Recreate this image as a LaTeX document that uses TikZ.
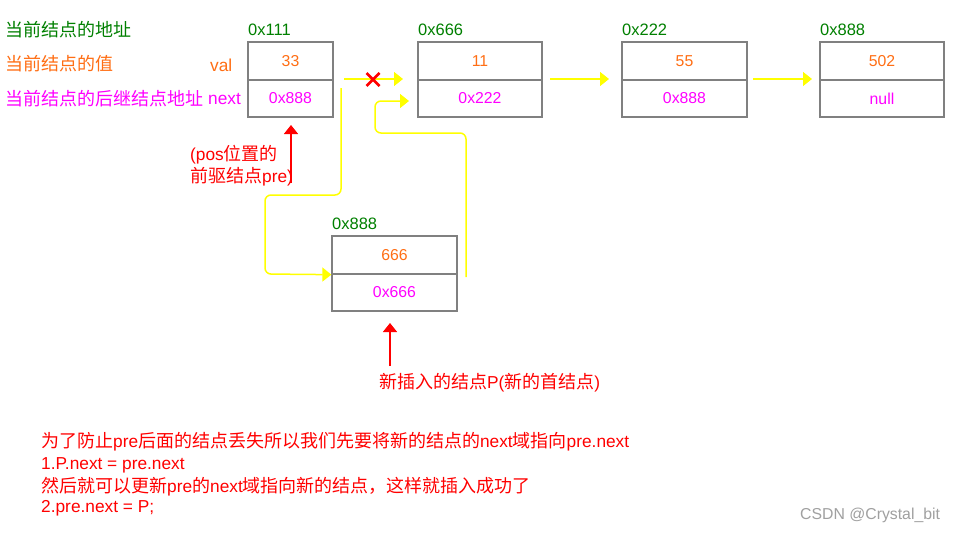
\documentclass[tikz,border=0pt]{standalone}
\usepackage{fontspec}
\setmainfont{Liberation Sans}
\newfontfamily\cjk[Scale=1.04]{Noto Sans CJK SC}
\usetikzlibrary{arrows.meta}
\definecolor{lgreen}{RGB}{0,128,0}
\definecolor{lorange}{RGB}{255,110,20}
\definecolor{lmag}{RGB}{255,0,255}
\definecolor{lred}{RGB}{255,0,0}
\definecolor{lyel}{RGB}{255,255,0}
\definecolor{lgray}{RGB}{128,128,128}
\definecolor{wgray}{RGB}{160,160,160}
\begin{document}
\begin{tikzpicture}[x=1pt,y=-1pt,
 cell/.style={draw=lgray,line width=1.3pt,inner sep=0pt},
 valtxt/.style={cell,text=lorange,font=\fontsize{15.8}{19}\selectfont,minimum height=38pt},
 nexttxt/.style={cell,text=lmag,font=\fontsize{15.8}{19}\selectfont,minimum height=37pt},
 addr/.style={text=lgreen,font=\fontsize{16.5}{19}\selectfont,anchor=west,inner sep=0pt},
 lbl/.style={font=\fontsize{17.3}{21}\selectfont,anchor=west,inner sep=0pt},
 yarrow/.style={draw=lyel,line width=1.5pt,-{Triangle[length=9pt,width=14pt]}},
 rarrow/.style={draw=lred,line width=1.5pt,-{Triangle[length=9pt,width=14pt]}},
]
\useasboundingbox[fill=white] (0,0) rectangle (956,533);

% left legend
\node[lbl,text=lgreen] (lg1) at (5,30) {\cjk 当前结点的地址};
\node[lbl,text=lorange] (lg2) at (5,64) {\cjk 当前结点的值};
\node[lbl,text=lmag] (lg3) at (5,99) {\cjk 当前结点的后继结点地址};
\node[lbl,text=lorange] (lval) at (210,65) {val};
\node[lbl,text=lmag] (lnext) at (208,99) {next};

% node 1
\node[addr] (a1) at (248,30) {0x111};
\node[valtxt,minimum width=85pt] (n1v) at (290.5,61) {33};
\node[nexttxt,minimum width=85pt] (n1n) at (290.5,98.5) {0x888};
% node 2
\node[addr] (a2) at (418,30) {0x666};
\node[valtxt,minimum width=124pt] (n2v) at (480,61) {11};
\node[nexttxt,minimum width=124pt] (n2n) at (480,98.5) {0x222};
% node 3
\node[addr] (a3) at (622,30) {0x222};
\node[valtxt,minimum width=125pt] (n3v) at (684.5,61) {55};
\node[nexttxt,minimum width=125pt] (n3n) at (684.5,98.5) {0x888};
% node 4
\node[addr] (a4) at (820,30) {0x888};
\node[valtxt,minimum width=124pt] (n4v) at (882,61) {502};
\node[nexttxt,minimum width=124pt] (n4n) at (882,98.5) {null};
% new node
\node[addr] (a5) at (332,224) {0x888};
\node[valtxt,minimum width=125pt] (n5v) at (394.5,255) {666};
\node[nexttxt,minimum width=125pt] (n5n) at (394.5,292.5) {0x666};

% yellow connectors
\coordinate (c1s) at (344,79);
\coordinate (c1e) at (403,79);
\coordinate (c2s) at (550,79);
\coordinate (c2e) at (609,79);
\coordinate (c3s) at (753,79);
\coordinate (c3e) at (812,79);
\draw[yarrow] (c1s) -- (c1e);
\draw[yarrow] (c2s) -- (c2e);
\draw[yarrow] (c3s) -- (c3e);

\coordinate (p1s) at (341,88);
\draw[yarrow,rounded corners=6pt] (p1s) -- (341,195) -- (265,195) -- (265,274) -- (n5v.south west);
\coordinate (p2s) at (466,277);
\coordinate (p2e) at (409,101);
\draw[yarrow,rounded corners=6pt] (p2s) -- (466,133) -- (375,133) -- (375,101) -- (p2e);

% red cross
\coordinate (xc) at (373,79.5);
\draw[lred,line width=2.6pt] ([shift={(-6.5,-6.5)}]xc) -- ([shift={(6.5,6.5)}]xc)
  ([shift={(-6.5,6.5)}]xc) -- ([shift={(6.5,-6.5)}]xc);

% red annotations
\node[lbl,text=lred] (t1) at (190,155) {(pos{\cjk 位置的}};
\node[lbl,text=lred] (t2) at (190,177) {{\cjk 前驱结点}pre)};
\coordinate (r1s) at (291,183);
\coordinate (r1e) at (291,125);
\draw[rarrow] (r1s) -- (r1e);

\node[lbl,text=lred] (t3) at (379,383) {{\cjk 新插入的结点}P({\cjk 新的首结点})};
\coordinate (r2s) at (390,366);
\coordinate (r2e) at (390,323);
\draw[rarrow] (r2s) -- (r2e);

% bottom explanation
\node[lbl,text=lred] (b1) at (41,442) {{\cjk 为了防止}pre{\cjk 后面的结点丢失所以我们先要将新的结点的}next{\cjk 域指向}pre.next};
\node[lbl,text=lred] (b2) at (41,465) {1.P.next = pre.next};
\node[lbl,text=lred] (b3) at (41,487) {{\cjk 然后就可以更新}pre{\cjk 的}next{\cjk 域指向新的结点，这样就插入成功了}};
\node[lbl,text=lred] (b4) at (41,508) {2.pre.next = P;};

% watermark
\node[anchor=west,inner sep=0pt,text=wgray,font=\fontsize{15.8}{19}\selectfont] (wm) at (800,515) {CSDN @Crystal\_bit};
\end{tikzpicture}
\end{document}
